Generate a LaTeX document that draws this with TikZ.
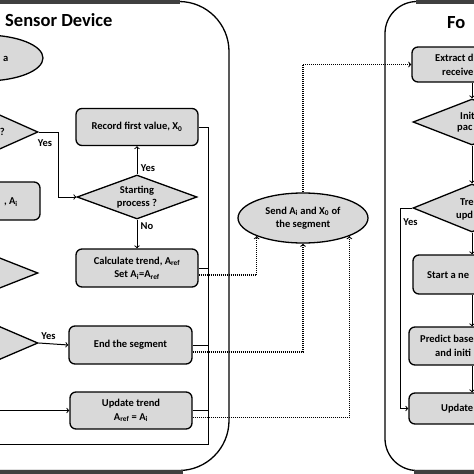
\documentclass[tikz,border=0pt]{standalone}
\usepackage{fontspec}
\setmainfont{Carlito}
\usetikzlibrary{shapes.geometric}

\tikzset{
  fnt/.style={font=\fontsize{10.5}{13.5}\selectfont\bfseries},
  box/.style={draw, fnt, align=center, line width=1.3pt, fill=black!15, rounded corners=6pt, inner sep=0pt},
  dec/.style={draw, fnt, align=center, diamond, aspect=2.6, line width=1.3pt, fill=black!15, inner sep=0pt},
  ellip/.style={draw, fnt, align=center, ellipse, line width=1.3pt, fill=black!15, inner sep=0pt},
  frag/.style={fnt, anchor=west, inner sep=0pt},
  lbl/.style={fnt, inner sep=0pt},
  flow/.style={->, line width=1pt},
  wire/.style={line width=1pt},
  dotline/.style={->, line width=1.1pt, dash pattern=on 1pt off 1pt},
  panel/.style={draw, line width=1.3pt},
  rim/.style={line width=4pt, black!75},
}

\begin{document}
\begin{tikzpicture}[x=1pt, y=-1pt]
\useasboundingbox (0,0) rectangle (474,474);
\fill[white] (0,0) rectangle (474,474);
\clip (0,0) rectangle (474,474);

% panels
\draw[panel, rounded corners=50pt] (-300,1.5) rectangle (229,470.5);
\draw[panel, rounded corners=32pt] (385,1.5) rectangle (700,470.5);
\draw[rim] (-10,1.5) -- (180,1.5);
\draw[rim] (-10,472) -- (183,472);
\draw[rim] (416,1.5) -- (480,1.5);
\draw[rim] (414,472) -- (480,472);

\node[fnt, font=\fontsize{18.5}{20}\selectfont\bfseries, anchor=west, inner sep=0pt] (sensortitle) at (5,20) {Sensor Device};
\node[fnt, font=\fontsize{18.5}{20}\selectfont\bfseries, anchor=west, inner sep=0pt] (fogtitle) at (447,23) {Fo};

% sensor side, left column
\node[ellip, minimum width=116pt, minimum height=46pt] (collect) at (-15,58) {};
\node[frag, anchor=east] (collecttxt) at (8.5,59) {a};
\node[dec, minimum width=116pt, minimum height=52pt] (newdata) at (-20,132) {};
\node[frag, anchor=east] (newdatatxt) at (5,132) {?};
\node[box, minimum width=122pt, minimum height=38pt] (readval) at (-21,201) {};
\node[frag, anchor=east] (readvaltxt) at (18,202) {, A\textsubscript{i}};
\node[dec, minimum width=116pt, minimum height=46pt] (check) at (-20,273) {};
\node[dec, minimum width=116pt, minimum height=50pt] (endcheck) at (-20,343) {};

% sensor side, right column
\node[box, minimum width=122pt, minimum height=37pt] (record) at (137,127) {Record first value, X\textsubscript{0}};
\node[dec, minimum width=120pt, minimum height=44pt] (starting) at (137,197) {Starting\\process ?};
\node[box, minimum width=122pt, minimum height=38pt] (calc) at (137,268) {Calculate trend, A\textsubscript{ref}\\Set A\textsubscript{i}=A\textsubscript{ref}};
\node[box, minimum width=123pt, minimum height=38pt] (endseg) at (130.5,345) {End the segment};
\node[box, minimum width=122pt, minimum height=37pt] (update) at (131,410.5) {Update trend\\A\textsubscript{ref} = A\textsubscript{i}};

\node[ellip, minimum width=130pt, minimum height=50pt] (send) at (303,218) {Send A\textsubscript{i} and X\textsubscript{0} of\\the segment};

% fog side
\node[box, minimum width=120pt, minimum height=35pt] (extract) at (472,64.5) {};
\node[frag] (extracttxt1) at (435,58) {Extract d};
\node[frag] (extracttxt2) at (442,72) {receive};
\node[dec, minimum width=118pt, minimum height=46pt] (initial) at (472,122) {};
\node[frag] (initialtxt1) at (460,115.5) {Init};
\node[frag] (initialtxt2) at (457,129) {pac};
\node[dec, minimum width=118pt, minimum height=48pt] (trend) at (472,208) {};
\node[frag] (trendtxt1) at (460,202) {Tre};
\node[frag] (trendtxt2) at (456,215.5) {upd};
\node[box, minimum width=118pt, minimum height=39pt] (newseg) at (472,274.5) {};
\node[frag] (newsegtxt) at (427,275) {Start a ne};
\node[box, minimum width=126pt, minimum height=38pt] (predict) at (472,346) {};
\node[frag] (predicttxt1) at (420,339) {Predict base};
\node[frag] (predicttxt2) at (435,353) {and initi};
\node[box, minimum width=126pt, minimum height=31pt] (updfog) at (472,408.5) {};
\node[frag] (updfogtxt) at (441,408.5) {Update};

% labels
\node[lbl] (yesnew) at (45,143) {Yes};
\node[lbl] (yesstart) at (148,168) {Yes};
\node[lbl] (nostart) at (147,226) {No};
\node[lbl] (yesend) at (48.5,336) {Yes};
\node[lbl] (yestrend) at (410.5,222) {Yes};

% sensor flow
\coordinate (bus) at (208,444);
\coordinate (loopend) at (-10,444);
\coordinate (noin) at (-10,410.5);
\draw[flow] (newdata.east) -- ++(20,0) |- (starting.west);
\draw[flow] (starting.north) -- (record.south);
\draw[flow] (starting.south) -- (calc.north);
\draw[flow] (endcheck.east) -- (endseg.west);
\draw[flow] (noin) -- (update.west);
\draw[wire] (record.east) -| (bus) -- (loopend);
\draw[wire] (calc.east) -- (calc.east -| bus);
\draw[wire] (endseg.east) -- (endseg.east -| bus);
\draw[wire] (update.east) -- (update.east -| bus);

% messages
\draw[dotline] ([yshift=-7pt]calc.east) -| (send.south west);
\draw[dotline] ([yshift=-7pt]endseg.east) -| (send.south);
\draw[dotline] ([yshift=-7pt]update.east) -| (send.south east);
\draw[dotline] (send.north) |- (extract.west);

% fog flow
\draw[flow] (extract.south) -- (initial.north);
\draw[flow] (initial.south) -- (trend.north);
\draw[flow] (trend.south) -- (newseg.north);
\draw[flow] (newseg.south) -- (predict.north);
\draw[flow] (predict.south) -- (updfog.north);
\draw[flow] (trend.west) -- ++(-12,0) |- (updfog.west);
\end{tikzpicture}
\end{document}
